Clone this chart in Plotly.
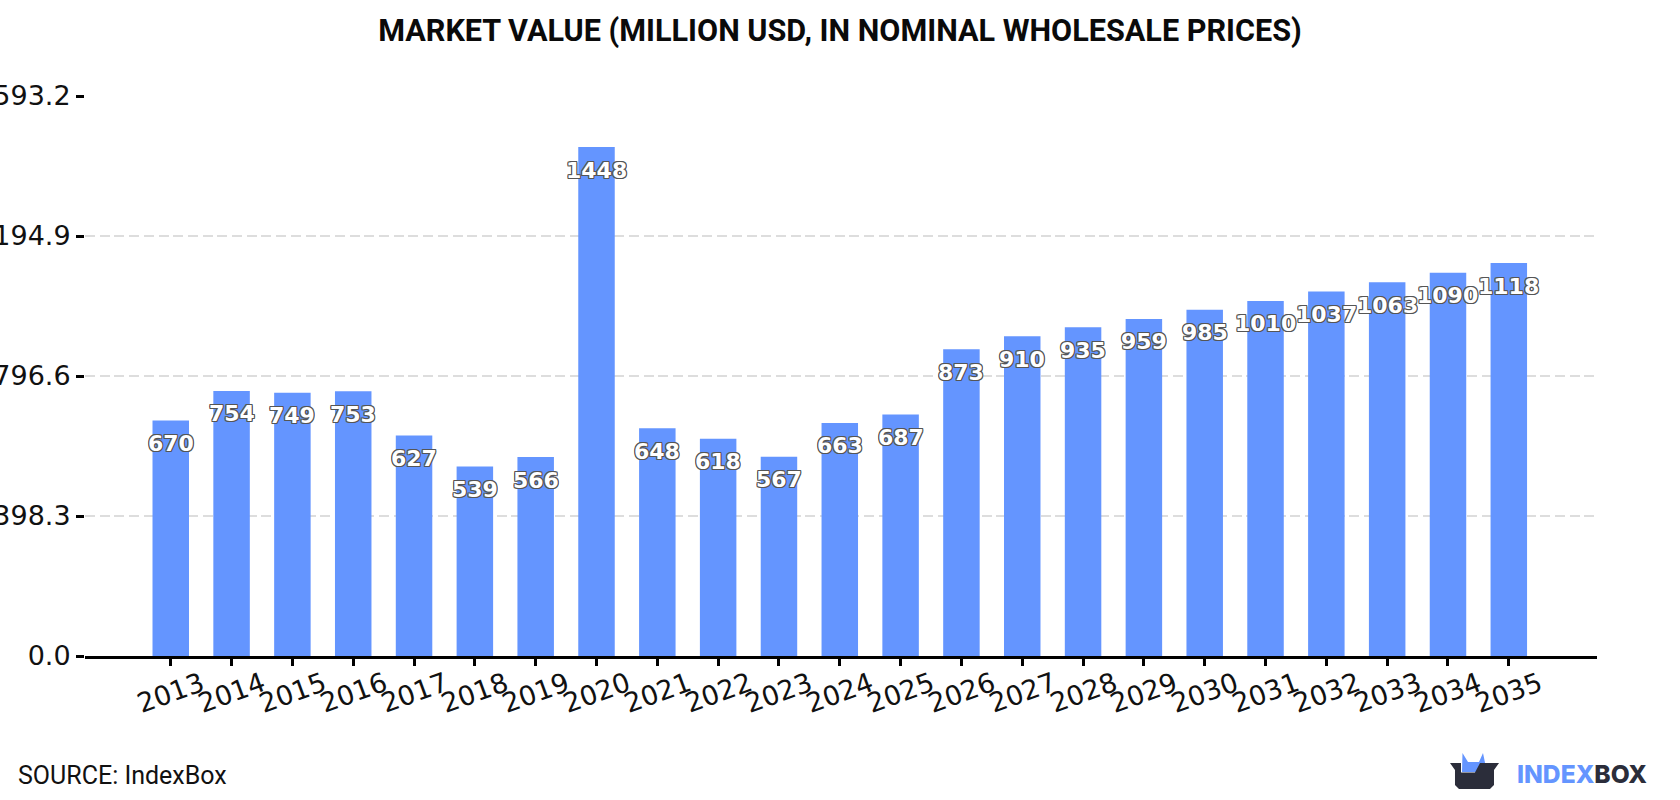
import plotly.graph_objects as go

years = list(range(2013, 2036))
market_value = [670, 754, 749, 753, 627, 539, 566, 1448, 648, 618, 567, 663, 687,
                873, 910, 935, 959, 985, 1010, 1037, 1063, 1090, 1118]
y_ticks = [0.0, 398.3, 796.6, 1194.9, 1593.2]
y_tick_labels = ["0.0", "398.3", "796.6", "1194.9", "1593.2"]
title_text = "MARKET VALUE (MILLION USD, IN NOMINAL WHOLESALE PRICES)"
source_text = "SOURCE: IndexBox"

WIDTH, HEIGHT = 1680, 800
LEFT, RIGHT, TOP, BOTTOM = 85, 1597, 96.4, 656
BLUE = "#6495ff"
DARK = "#2b2d3a"
OUTLINE = "#555555"

outline_shadow = ", ".join(
    f"{dx}px {dy}px 0px {OUTLINE}"
    for dx, dy in [(1, 0), (-1, 0), (0, 1), (0, -1), (1, 1), (-1, 1), (1, -1), (-1, -1)]
)


def px(x):
    return (x - LEFT) / (RIGHT - LEFT)


def py(y):
    return (BOTTOM - y) / (BOTTOM - TOP)


def logo_path(points):
    # Closed polygon for the logo, given in page pixels
    coords = [f"{px(x):.5f},{py(y):.5f}" for x, y in points]
    return "M" + " L".join(coords) + " Z"


fig = go.Figure(
    go.Bar(x=years, y=market_value, width=0.6, marker=dict(color=BLUE, line=dict(width=0)))
)

# Value labels sit a fixed distance under each bar top
annotations = [
    dict(
        x=year, y=value, xref="x", yref="y", yshift=-23, text=str(value), showarrow=False,
        font=dict(family="DejaVu Sans", size=22, color="white", weight="bold", shadow=outline_shadow),
    )
    for year, value in zip(years, market_value)
]

# Year labels are centred on their ticks, which rotated axis labels are not
annotations += [
    dict(
        x=year, y=0, xref="x", yref="y", yshift=-36, text=str(year), showarrow=False,
        textangle=-20,
        font=dict(family="DejaVu Sans", size=27, color="#111111"),
    )
    for year in years
]

annotations += [
    dict(
        x=px(16), y=py(775), xref="paper", yref="paper", xanchor="left", yanchor="middle",
        text=source_text, showarrow=False,
        font=dict(family="Roboto", size=25, color="#111111"),
    ),
    dict(
        x=px(1515), y=py(774), xref="paper", yref="paper", xanchor="left", yanchor="middle",
        text=f'<span style="color:{BLUE}">INDEX</span><span style="color:{DARK}">BOX</span>',
        showarrow=False,
        font=dict(family="Inter", size=24.6, weight=800),
    ),
]

logo_crown = [(1462, 772), (1462.5, 753), (1468, 762), (1479, 762), (1483, 753), (1487, 772)]
logo_box = [
    (1450, 763), (1480, 763), (1475, 772.5), (1461, 772.5), (1461, 763), (1499, 763),
    (1494, 770), (1494, 785), (1490, 789), (1459, 789), (1455, 785), (1455, 770),
]
shapes = [
    dict(type="path", xref="paper", yref="paper", path=logo_path(logo_crown),
         fillcolor=BLUE, line=dict(width=0), layer="above"),
    dict(type="path", xref="paper", yref="paper", path=logo_path(logo_box),
         fillcolor=DARK, line=dict(width=0), layer="above"),
]

fig.update_layout(
    template=None,
    width=WIDTH,
    height=HEIGHT,
    margin=dict(l=LEFT, r=WIDTH - RIGHT, t=TOP, b=HEIGHT - BOTTOM, pad=0, autoexpand=False),
    paper_bgcolor="white",
    plot_bgcolor="white",
    showlegend=False,
    title=dict(
        text=title_text, xref="container", x=840 / WIDTH, xanchor="center",
        yref="container", y=1 - 30 / HEIGHT, yanchor="middle",
        font=dict(family="Roboto", size=30.6, color="#0a0a0a", weight="bold"),
    ),
    xaxis=dict(
        automargin=False,
        range=[2011.59, 2036.45],
        tickvals=years,
        showticklabels=False,
        ticks="outside",
        ticklen=7,
        tickwidth=2.5,
        tickcolor="black",
        showline=True,
        linecolor="black",
        linewidth=3,
        showgrid=False,
        zeroline=False,
    ),
    yaxis=dict(
        automargin=False,
        range=[0, 1593.2],
        tickvals=y_ticks,
        ticktext=y_tick_labels,
        ticks="outside",
        ticklen=8,
        tickwidth=2.5,
        tickcolor="black",
        showline=False,
        showgrid=True,
        gridcolor="#dddddd",
        gridwidth=2,
        griddash="10px,4.7px",
        zeroline=False,
        tickfont=dict(family="DejaVu Sans", size=27, color="#111111"),
    ),
    annotations=annotations,
    shapes=shapes,
)

fig.write_html("out.html")
